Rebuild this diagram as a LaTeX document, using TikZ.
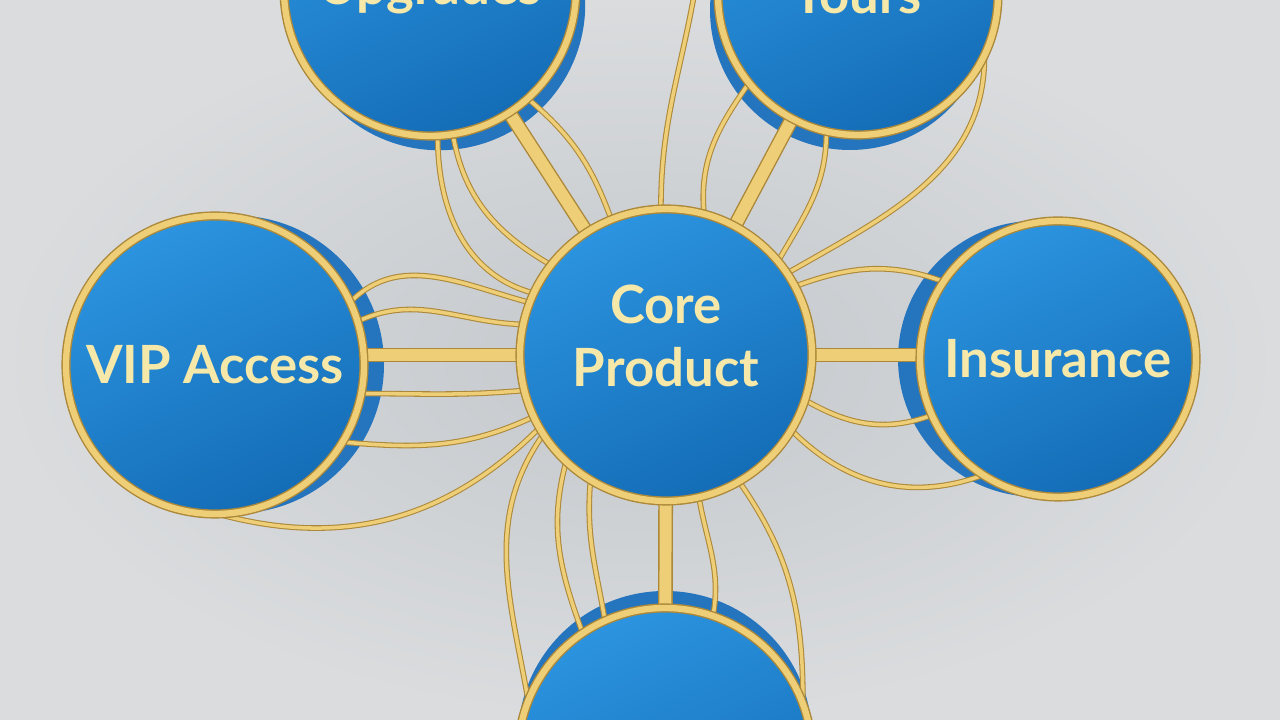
\documentclass[tikz,border=0pt]{standalone}
\usepackage{fontspec}
\setmainfont{Lato}
\usetikzlibrary{calc,positioning}
\definecolor{bgrey}{RGB}{196,200,204}
\definecolor{bgreyl}{RGB}{218,220,222}
\definecolor{blueA}{RGB}{44,148,224}
\definecolor{blueB}{RGB}{20,108,182}
\definecolor{blueS}{RGB}{36,116,190}
\definecolor{rimgold}{RGB}{238,206,118}
\definecolor{golddark}{RGB}{172,136,58}
\definecolor{cream}{RGB}{246,232,168}
\pgfdeclarelayer{bg}
\pgfdeclarelayer{back}
\pgfsetlayers{bg,back,main}
\tikzset{
  bubble/.style={circle, inner sep=0pt, minimum size=#1, draw=golddark,
    double=rimgold, double distance=1.8pt, line width=0.4pt,
    top color=blueA, bottom color=blueB, shading angle=25,
    font=\bfseries\fontsize{15}{18}\selectfont, text=cream, align=center},
  sidedisc/.style={fill=blueS},
  bar/.style={draw=golddark, line width=0.4pt, double=rimgold, double distance=3.4pt},
  wire/.style={draw=golddark, line width=0.3pt, double=rimgold, double distance=1pt}
}
\begin{document}
\begin{tikzpicture}
\useasboundingbox (0,0) rectangle (12.8,7.2);
\clip (0,0) rectangle (12.8,7.2);

% circles
\node[bubble=2.92cm, text depth=0.38cm] (core) at (6.66,3.65) {Core\\Product};
\node[bubble=2.92cm] (upg) at (4.30,7.30) {Upgrades};
\node[bubble=2.80cm] (tours) at (8.58,7.25) {Tours};
\node[bubble=2.98cm] (vip) at (2.15,3.55) {VIP Access};
\node[bubble=2.76cm] (ins) at (10.58,3.61) {Insurance};
\node[bubble=2.94cm] (bot) at (6.65,-0.35) {};
\coordinate (topend) at (6.95,7.3);

\begin{pgfonlayer}{bg}
  \shade[inner color=bgrey, outer color=bgreyl] (0,0) rectangle (12.8,7.2);
\end{pgfonlayer}

\begin{pgfonlayer}{back}
  % sides of the discs, turned to the core
  \fill[sidedisc] ($(upg)!0.17cm!(core)$) circle (1.46);
  \fill[sidedisc] ($(tours)!0.17cm!(core)$) circle (1.40);
  \fill[sidedisc] ($(vip)!0.2cm!(core)$) circle (1.49);
  \fill[sidedisc] ($(ins)!0.22cm!(core)$) circle (1.38);
  \fill[sidedisc] ($(bot)!0.17cm!(core)$) circle (1.47);

  % bars
  \draw[bar] (core) -- (upg);
  \draw[bar] (core) -- (tours);
  \draw[bar] (core.center) -- (core.center -| vip);
  \draw[bar] (core.center) -- (core.center -| ins);
  \draw[bar] (core) -- (bot);

  % wires to VIP Access
  \draw[wire] (vip.25) to[out=45,in=165] (core.159);
  \draw[wire] (vip.17) to[out=25,in=178] (core.168);
  \draw[wire] (vip.-11) to[out=0,in=185] (core.194);
  \draw[wire] (vip.-31) to[out=-5,in=205] (core.205);
  \draw[wire] (vip.-88) to[out=-15,in=225] (core.210);

  % wires to the bottom disc
  \draw[wire] (core.213) to[out=235,in=100] (bot.158);
  \draw[wire] (core.227) to[out=255,in=110] (bot.124);
  \draw[wire] (core.239) to[out=265,in=100] (bot.114);
  \draw[wire] (core.-77) to[out=-80,in=80] (bot.71);
  \draw[wire] (core.-60) to[out=-55,in=90] (bot.21);

  % wires to Insurance
  \draw[wire] (core.28) to[out=20,in=160] (ins.146);
  \draw[wire] (core.-18) to[out=-30,in=200] (ins.204);
  \draw[wire] (core.-31) to[out=-45,in=200] (ins.237);

  % wires to Tours
  \draw[wire] (core.75) to[out=95,in=235] (tours.219);
  \draw[wire] (core.40) to[out=60,in=-90] (tours.-103);
  \draw[wire] (core.34) to[out=30,in=-90] (tours.-26);
  \draw[wire] (core.92) to[out=90,in=-100] (topend);

  % wires to Upgrades
  \draw[wire] (core.112) to[out=110,in=-40] (upg.-48);
  \draw[wire] (core.142) to[out=150,in=-80] (upg.-81);
  \draw[wire] (core.155) to[out=165,in=-90] (upg.-87);
\end{pgfonlayer}
\end{tikzpicture}
\end{document}
